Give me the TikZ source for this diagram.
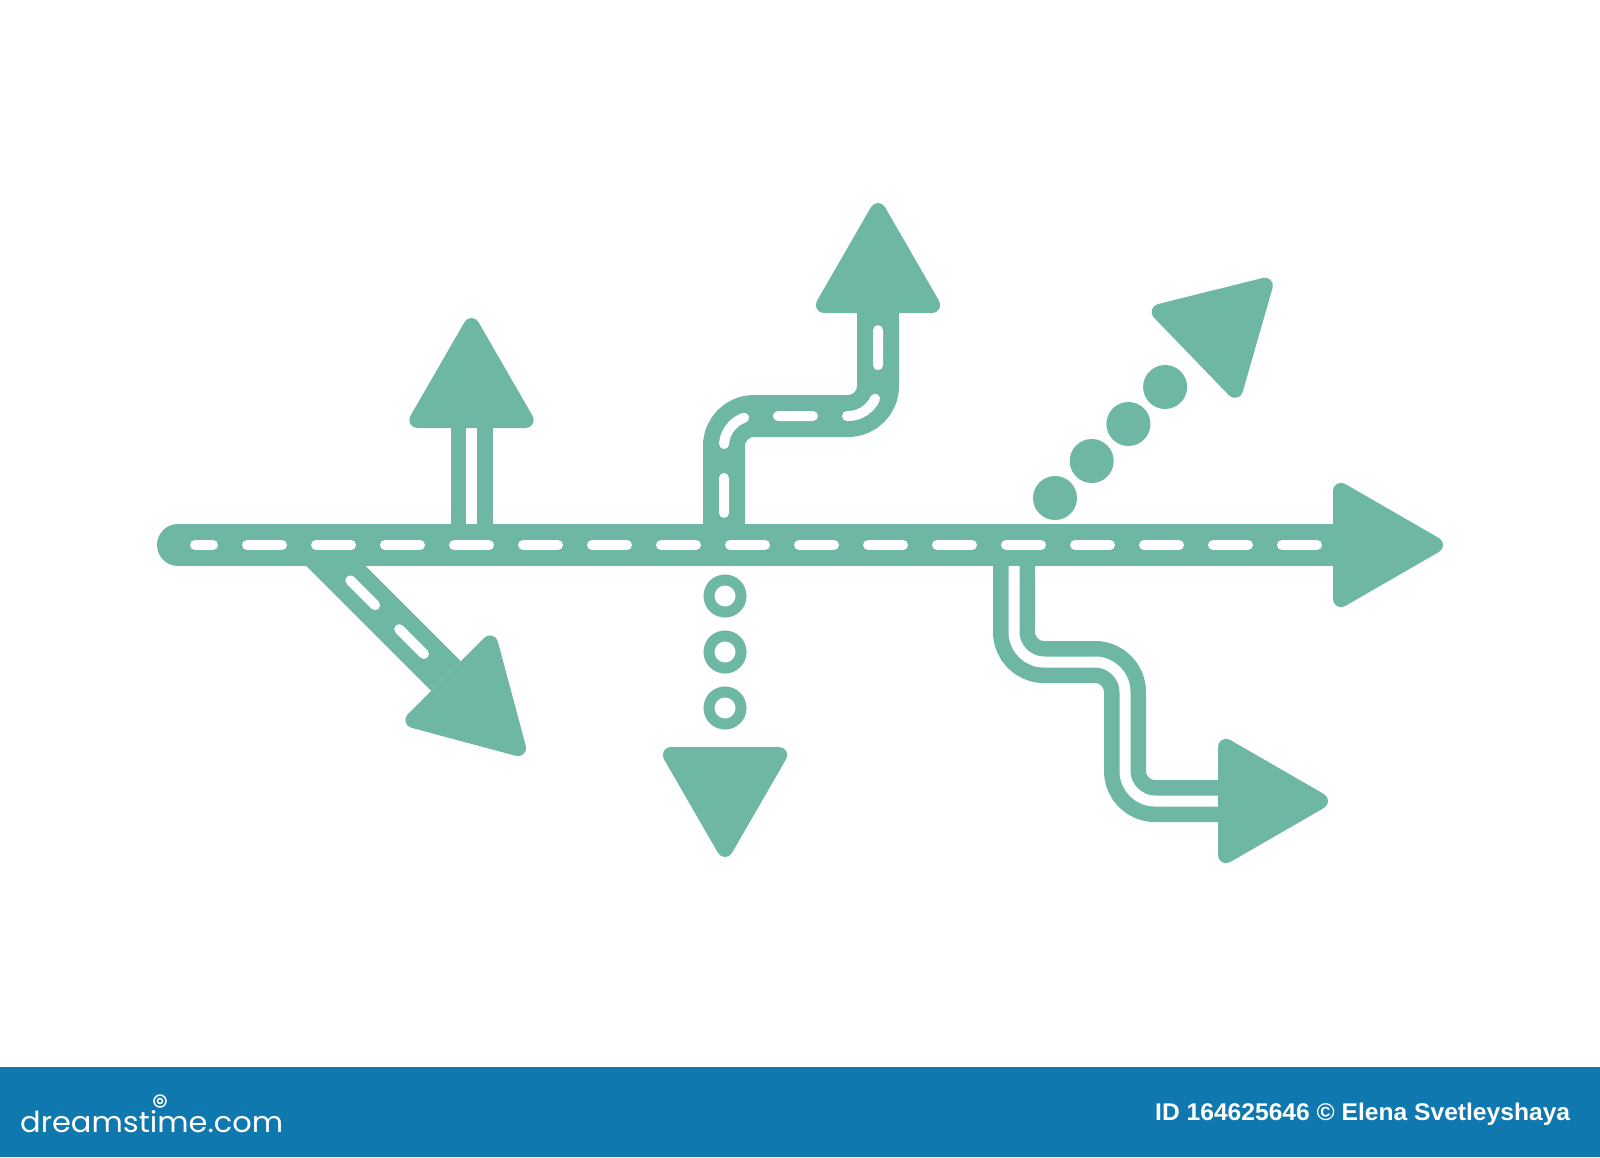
\documentclass[tikz,border=0pt]{standalone}
\usepackage{graphicx}
\usepackage{fontspec}
\setmainfont{Liberation Sans}
\newfontfamily\logofont{Poppins}
\usetikzlibrary{calc}

\definecolor{roadteal}{RGB}{111,183,165}
\definecolor{bannerblue}{RGB}{15,120,174}

\tikzset{
	road/.style={draw=roadteal, line width=42pt},
	lane/.style={draw=white, line width=10pt, line cap=round, dash pattern=on 35pt off 34pt},
	gap/.style={draw=white, line width=11pt},
	ring/.style={draw=roadteal, line width=11pt},
	bead/.style={fill=roadteal},
	tiphead/.pic={\filldraw[roadteal, line width=16pt, line join=round] (8,-54.2) -- (102,0) -- (8,54.2) -- cycle;}
}

\begin{document}
\begin{tikzpicture}[x=1pt, y=-1pt]
	\fill[white] (0,0) rectangle (1600,1157);
	\useasboundingbox (0,0) rectangle (1600,1157);

	\coordinate (tail) at (178,545);
	\coordinate (mainbase) at (1333,545);
	\coordinate (upbase) at (471.5,428);
	\coordinate (waveupbase) at (878,313);
	\coordinate (diagbase) at (446,676);
	\coordinate (dotdownbase) at (725,747);
	\coordinate (beadbase) at (1191.5,356.5);
	\coordinate (wavedownbase) at (1218,801);

	\draw[road, line cap=round] (tail) -- (mainbase);
	\draw[road] (471.5,545) -- (upbase);
	\draw[road, rounded corners=30pt] (724,545) -- (724,416) -- (878,416) -- (waveupbase);
	\draw[road] (315,545) -- (diagbase);
	\draw[road, rounded corners=30pt] (1014,545) -- (1014,662) -- (1125,662) -- (1125,801) -- (wavedownbase);

	\draw[lane, dash phase=17pt] (195,545) -- (1317,545);
	\draw[lane, dash phase=58pt, rounded corners=30pt] (724,524) -- (724,416) -- (878,416) -- (waveupbase);
	\draw[lane] (350.4,580.4) -- (424.6,654.6);
	\draw[gap] (471.5,524) -- (upbase);
	\draw[gap, rounded corners=30pt] (1014,566) -- (1014,662) -- (1125,662) -- (1125,801) -- (wavedownbase);

	\draw[ring] (725,596) circle[radius=16];
	\draw[ring] (725,652) circle[radius=16];
	\draw[ring] (725,708) circle[radius=16];

	\fill[bead] (1055,498) circle[radius=22];
	\fill[bead] (1091.7,461) circle[radius=22];
	\fill[bead] (1128.4,424) circle[radius=22];
	\fill[bead] (1165.1,387) circle[radius=22];

	\pic at (mainbase) {tiphead};
	\pic[rotate=90] at (upbase) {tiphead};
	\pic[rotate=90] at (waveupbase) {tiphead};
	\pic[rotate=-45] at (diagbase) {tiphead};
	\pic[rotate=-90] at (dotdownbase) {tiphead};
	\pic[rotate=44] at (beadbase) {tiphead};
	\pic at (wavedownbase) {tiphead};

	\fill[bannerblue] (0,1067) rectangle (1600,1157);
	\node[anchor=base west, inner sep=0, text=white] (logo) at (20,1132) {\resizebox{263pt}{22pt}{\logofont dreamstime.com}};
	\draw[white, line width=1.5pt] (160,1101) circle[radius=6] (160,1101) circle[radius=2.5];
	\node[anchor=base west, inner sep=0, text=white] (credit) at (1155,1120) {\resizebox{415pt}{17.5pt}{\bfseries ID 164625646 © Elena Svetleyshaya}};
\end{tikzpicture}
\end{document}
